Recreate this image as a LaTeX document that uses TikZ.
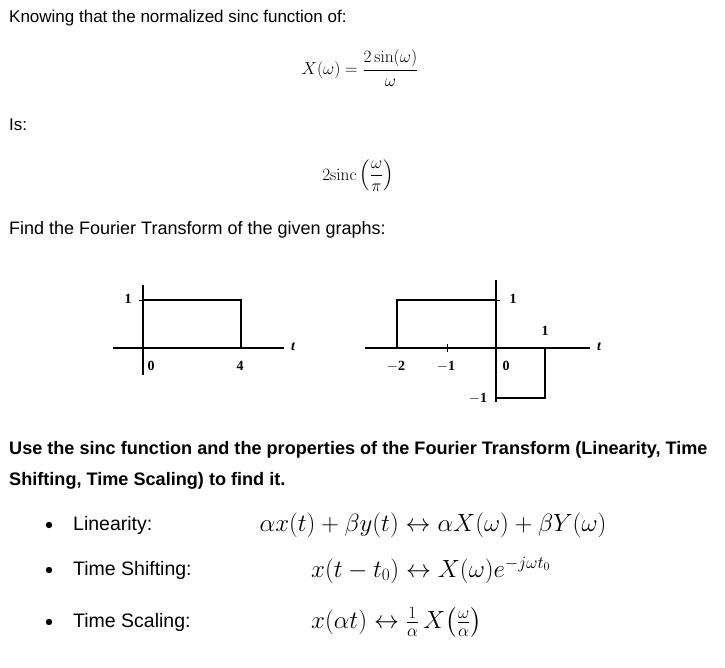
\documentclass[tikz,border=0pt]{standalone}
\usepackage{amsmath}
\usepackage[no-math]{fontspec}
\setmainfont{Liberation Sans}
\newfontfamily\labfont{Liberation Serif}
\begin{document}
\begin{tikzpicture}[x=1pt,y=-1pt,
  txt/.style={anchor=west,inner sep=0pt,font=\fontsize{17}{20}\selectfont},
  itxt/.style={anchor=west,inner sep=0pt,font=\fontsize{19.5}{22}\selectfont},
  btxt/.style={anchor=west,inner sep=0pt,font=\fontsize{18.1}{20}\selectfont\bfseries},
  mth/.style={inner sep=0pt,font=\fontsize{18}{21}\selectfont},
  big/.style={inner sep=0pt,font=\fontsize{24}{28}\selectfont},
  ax/.style={line width=1.6pt},
  sig/.style={line width=2.2pt},
  lab/.style={inner sep=0pt,font=\fontsize{14}{15}\selectfont\labfont\bfseries}]
\useasboundingbox (0,0) rectangle (725,668);
\node[txt] (t1) at (9,18) {Knowing that the normalized sinc function of:};
\node[mth] (f1) at (360,68) {$X(\omega)=\dfrac{2\sin(\omega)}{\omega}$};
\node[txt] (t2) at (9,125) {Is:};
\node[mth] (f2) at (358,176) {$2\mathrm{sinc}\left(\dfrac{\omega}{\pi}\right)$};
\node[txt,font=\fontsize{18}{20}\selectfont] (t3) at (9,230) {Find the Fourier Transform of the given graphs:};
% graph 1
\draw[ax] (113,348) coordinate (a1) -- (284,348) coordinate (a2);
\draw[ax] (143,285) coordinate (v1) -- (143,375) coordinate (v2);
\draw[sig] (143,348) -- (143,300) -- (241,300) -- (241,348);
\draw[line width=1pt] (139,300) -- (147,300);
\node[lab] (g1t) at (293,347) {\itshape t};
\node[lab] (g11) at (128,299) {1};
\node[lab] (g10) at (151,366) {0};
\node[lab] (g14) at (240,366) {4};
% graph 2
\draw[ax] (365,348) coordinate (b1) -- (590,348) coordinate (b2);
\draw[ax] (496,280) coordinate (w1) -- (496,402) coordinate (w2);
\draw[sig] (397,348) -- (397,300) -- (496,300) -- (496,398) -- (545,398) -- (545,348);
\draw[line width=1pt] (447,344) -- (447,352);
\draw[line width=1pt] (492,300) -- (500,300);
\node[lab] (g2t) at (599,347) {\itshape t};
\node[lab] (g21) at (513,299) {1};
\node[lab] (g21b) at (545,331) {1};
\node[lab] (g2m2) at (396,366) {$-$2};
\node[lab] (g2m1) at (446,366) {$-$1};
\node[lab] (g20) at (506,366) {0};
\node[lab] (g2m1b) at (478,398) {$-$1};
% text
\node[btxt] (t4) at (9,450) {Use the sinc function and the properties of the Fourier Transform (Linearity, Time};
\node[btxt] (t5) at (9,481) {Shifting, Time Scaling) to find it.};
\foreach \y/\s [count=\i] in {525/Linearity:,570/Time Shifting:,622/Time Scaling:}{
  \fill (49,\y) circle (3.2);
  \node[itxt] (it\i) at (73,\y) {\s};
}
\node[big] (p1) at (433,525) {$\alpha x(t)+\beta y(t)\leftrightarrow\alpha X(\omega)+\beta Y(\omega)$};
\node[big,anchor=west] (p2) at (311,570) {$x(t-t_0)\leftrightarrow X(\omega)e^{-j\omega t_0}$};
\node[big,anchor=west] (p3) at (311,622) {$x(\alpha t)\leftrightarrow\tfrac{1}{\alpha}\,X\!\left(\tfrac{\omega}{\alpha}\right)$};
\end{tikzpicture}
\end{document}
